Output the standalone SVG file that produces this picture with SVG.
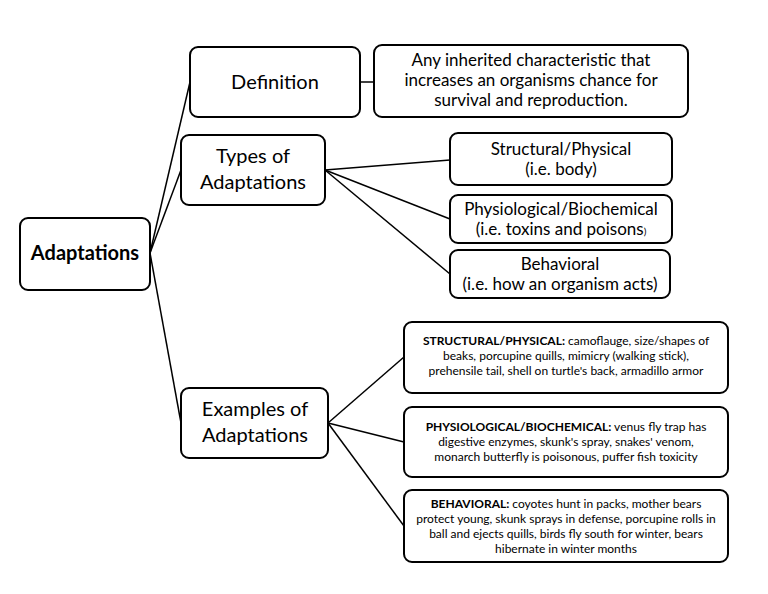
<svg xmlns="http://www.w3.org/2000/svg" width="768" height="594" viewBox="0 0 768 594">
<style>
rect{fill:#fff;stroke:#000;stroke-width:2}
text{font-family:Lato,"Open Sans",sans-serif;text-anchor:middle;fill:#000}
.l{font-size:20px}.m{font-size:17px}.s{font-size:12px}
line{stroke:#000;stroke-width:1.5}
</style>
<rect width="768" height="594" style="stroke:none"/>
<g id="connectors">
<line x1="150" y1="253" x2="190" y2="82"/>
<line x1="150" y1="253" x2="181" y2="170"/>
<line x1="150" y1="253" x2="181" y2="423"/>
<line x1="360" y1="82" x2="374" y2="82"/>
<line x1="325" y1="170" x2="450" y2="160"/>
<line x1="325" y1="170" x2="450" y2="219"/>
<line x1="325" y1="170" x2="450" y2="274"/>
<line x1="328" y1="423" x2="404" y2="357"/>
<line x1="328" y1="423" x2="404" y2="442"/>
<line x1="328" y1="423" x2="404" y2="526"/>
</g>
<g id="adaptations"><rect x="20" y="218" width="130" height="72" rx="8"/><text x="85" y="260" class="l" font-weight="bold">Adaptations</text></g>
<g id="definition"><rect x="190" y="47" width="170" height="70" rx="8"/><text x="275" y="89" class="l">Definition</text></g>
<g id="deftext"><rect x="374" y="45" width="314" height="72" rx="8"/><text class="m"><tspan x="531" y="66">Any inherited characteristic that</tspan><tspan x="531" y="86">increases an organisms chance for</tspan><tspan x="531" y="106">survival and reproduction.</tspan></text></g>
<g id="types"><rect x="181" y="135" width="144" height="70" rx="8"/><text class="l"><tspan x="253" y="163">Types of</tspan><tspan x="253" y="189">Adaptations</tspan></text></g>
<g id="structural"><rect x="450" y="133" width="222" height="52" rx="8"/><text class="m"><tspan x="561" y="155">Structural/Physical</tspan><tspan x="561" y="175">(i.e. body)</tspan></text></g>
<g id="physiological"><rect x="450" y="195" width="222" height="48" rx="8"/><text class="m"><tspan x="561" y="215">Physiological/Biochemical</tspan><tspan x="561" y="235">(i.e. toxins and poisons<tspan font-size="10px">)</tspan></tspan></text></g>
<g id="behavioral"><rect x="450" y="250" width="220" height="48" rx="8"/><text class="m"><tspan x="560" y="270">Behavioral</tspan><tspan x="560" y="290">(i.e. how an organism acts)</tspan></text></g>
<g id="examples"><rect x="181" y="388" width="147" height="70" rx="8"/><text class="l"><tspan x="255" y="416">Examples of</tspan><tspan x="255" y="442">Adaptations</tspan></text></g>
<g id="ex-structural"><rect x="404" y="322" width="324" height="71" rx="8"/><text class="s"><tspan x="566" y="345"><tspan font-weight="bold">STRUCTURAL/PHYSICAL:</tspan> camoflauge, size/shapes of</tspan><tspan x="566" y="360">beaks, porcupine quills, mimicry (walking stick),</tspan><tspan x="566" y="375">prehensile tail, shell on turtle's back, armadillo armor</tspan></text></g>
<g id="ex-physiological"><rect x="404" y="407" width="324" height="70" rx="8"/><text class="s"><tspan x="566" y="431"><tspan font-weight="bold">PHYSIOLOGICAL/BIOCHEMICAL:</tspan> venus fly trap has</tspan><tspan x="566" y="446">digestive enzymes, skunk's spray, snakes' venom,</tspan><tspan x="566" y="461">monarch butterfly is poisonous, puffer fish toxicity</tspan></text></g>
<g id="ex-behavioral"><rect x="404" y="490" width="324" height="72" rx="8"/><text class="s"><tspan x="566" y="508"><tspan font-weight="bold">BEHAVIORAL:</tspan> coyotes hunt in packs, mother bears</tspan><tspan x="566" y="523">protect young, skunk sprays in defense, porcupine rolls in</tspan><tspan x="566" y="538">ball and ejects quills, birds fly south for winter, bears</tspan><tspan x="566" y="553">hibernate in winter months</tspan></text></g>
</svg>
